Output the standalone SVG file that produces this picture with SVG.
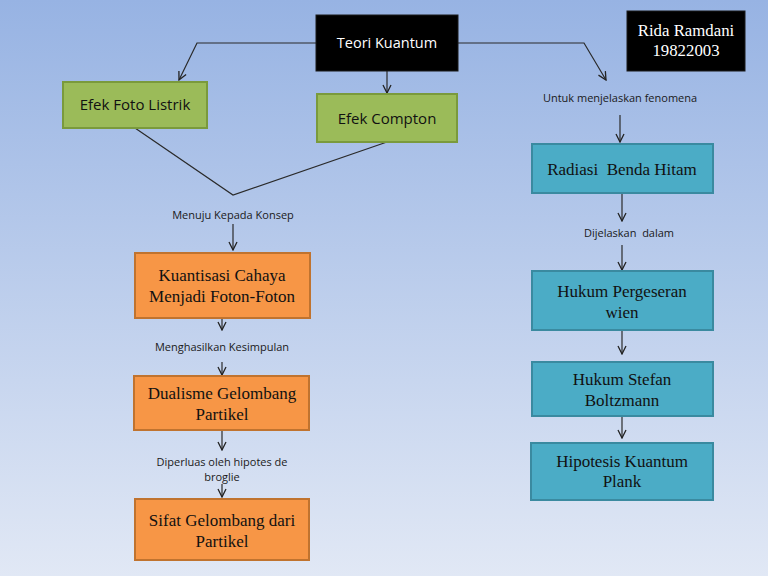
<svg xmlns="http://www.w3.org/2000/svg" width="768" height="576" viewBox="0 0 768 576">
<defs>
<linearGradient id="bg" x1="0" y1="0" x2="0" y2="1">
<stop offset="0" stop-color="#97b3e3"/>
<stop offset="1" stop-color="#e1e8f5"/>
</linearGradient>
<marker id="ah" viewBox="0 0 10 10" refX="9" refY="5" markerWidth="10" markerHeight="10" markerUnits="userSpaceOnUse" orient="auto">
<path d="M1,1 L9,5 L1,9" fill="none" stroke="#222" stroke-width="1.3"/>
</marker>
</defs>
<style>
.blk{fill:#000;stroke:#1a1a1a;stroke-width:1}
.grn{fill:#9bbb59;stroke:#7a9a3c;stroke-width:2}
.org{fill:#f79646;stroke:#c0732f;stroke-width:2}
.teal{fill:#4bacc6;stroke:#3a8aa0;stroke-width:2}
.sans{font-family:"Open Sans","Liberation Sans",sans-serif;text-anchor:middle}
.ser{font-family:"Liberation Serif",serif;text-anchor:middle;fill:#111;font-size:17px}
.lbl{font-family:"Open Sans","Liberation Sans",sans-serif;text-anchor:middle;font-size:11px;fill:#1a1a1a}
.ln{fill:none;stroke:#2a2a2a;stroke-width:1.2}
.ar{fill:none;stroke:#2a2a2a;stroke-width:1.2;marker-end:url(#ah)}
</style>
<rect width="768" height="576" fill="url(#bg)"/>

<g id="connectors">
<polyline class="ar" points="316,43 197,43 179,80"/>
<line class="ar" x1="387" y1="71" x2="387" y2="93"/>
<polyline class="ar" points="458,43 584,43 606,80"/>
<polyline class="ln" points="135,128 233,195 387,142"/>
<line class="ar" x1="233" y1="224" x2="233" y2="250"/>
<line class="ar" x1="222" y1="318" x2="222" y2="330"/>
<line class="ar" x1="222" y1="362" x2="222" y2="375"/>
<line class="ar" x1="222" y1="430" x2="222" y2="450"/>
<line class="ar" x1="222" y1="484" x2="222" y2="497"/>
<line class="ar" x1="620" y1="115" x2="620" y2="142"/>
<line class="ar" x1="622" y1="193" x2="622" y2="221"/>
<line class="ar" x1="622" y1="245" x2="622" y2="270"/>
<line class="ar" x1="622" y1="330" x2="622" y2="354"/>
<line class="ar" x1="622" y1="416" x2="622" y2="438"/>
<text class="lbl" x="233" y="219">Menuju Kepada Konsep</text>
<text class="lbl" x="222" y="351">Menghasilkan Kesimpulan</text>
<text class="lbl" x="222" y="466">Diperluas oleh hipotes de</text>
<text class="lbl" x="222" y="481">broglie</text>
<text class="lbl" x="620" y="102">Untuk menjelaskan fenomena</text>
<text class="lbl" x="629" y="237" xml:space="preserve">Dijelaskan  dalam</text>
</g>

<g id="teori">
<rect class="blk" x="316" y="15" width="142" height="56"/>
<text class="sans" x="387" y="48" font-size="14.5" fill="#fff">Teori Kuantum</text>
</g>
<g id="rida">
<rect class="blk" x="627" y="11" width="118" height="60"/>
<text x="686" y="36" font-family="Liberation Serif,serif" font-size="16.8" fill="#fff" text-anchor="middle">Rida Ramdani</text>
<text x="686" y="56" font-family="Liberation Serif,serif" font-size="16.8" fill="#fff" text-anchor="middle">19822003</text>
</g>
<g id="efekfoto">
<rect class="grn" x="63" y="82" width="144" height="46"/>
<text class="sans" x="135" y="110" font-size="15" fill="#111">Efek Foto Listrik</text>
</g>
<g id="compton">
<rect class="grn" x="317" y="94" width="140" height="48"/>
<text class="sans" x="387" y="124" font-size="15" fill="#111">Efek Compton</text>
</g>
<g id="kuantisasi">
<rect class="org" x="135" y="253" width="175" height="65"/>
<text class="ser" x="222" y="281">Kuantisasi Cahaya</text>
<text class="ser" x="222" y="302">Menjadi Foton-Foton</text>
</g>
<g id="dualisme">
<rect class="org" x="134" y="376" width="175" height="54"/>
<text class="ser" x="222" y="399">Dualisme Gelombang</text>
<text class="ser" x="222" y="420">Partikel</text>
</g>
<g id="sifat">
<rect class="org" x="135" y="499" width="174" height="61"/>
<text class="ser" x="222" y="526">Sifat Gelombang dari</text>
<text class="ser" x="222" y="547">Partikel</text>
</g>
<g id="radiasi">
<rect class="teal" x="532" y="144" width="181" height="49"/>
<text class="ser" x="622" y="175" xml:space="preserve">Radiasi  Benda Hitam</text>
</g>
<g id="wien">
<rect class="teal" x="532" y="271" width="181" height="59"/>
<text class="ser" x="622" y="297">Hukum Pergeseran</text>
<text class="ser" x="622" y="318">wien</text>
</g>
<g id="stefan">
<rect class="teal" x="532" y="362" width="181" height="54"/>
<text class="ser" x="622" y="385">Hukum Stefan</text>
<text class="ser" x="622" y="406">Boltzmann</text>
</g>
<g id="plank">
<rect class="teal" x="531" y="443" width="182" height="57"/>
<text class="ser" x="622" y="467">Hipotesis Kuantum</text>
<text class="ser" x="622" y="487">Plank</text>
</g>
</svg>
